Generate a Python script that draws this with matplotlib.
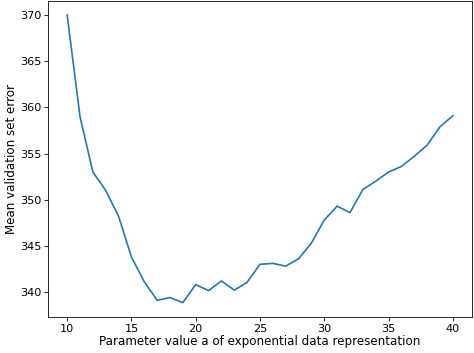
import matplotlib
matplotlib.use("Agg")
from matplotlib import pyplot as plt

# parameter a values and mean validation error
a_values = list(range(10, 41))
mean_error = [370.0, 359.0, 353.0, 351.0, 348.2, 343.8, 341.1, 339.1, 339.4, 338.85,
              340.8, 340.15, 341.2, 340.2, 341.05, 343.0, 343.1, 342.8, 343.6, 345.3,
              347.8, 349.3, 348.6, 351.1, 352.0, 353.0, 353.6, 354.7, 355.9, 357.9,
              359.1]

fig = plt.figure(figsize=(474 / 74, 353 / 74), dpi=74)
ax = fig.add_axes([0.101, 0.102, 0.895, 0.896])
ax.plot(a_values, mean_error, color="#1f77b4", linewidth=1.6)
ax.tick_params(labelsize=11, pad=3)
ax.set_xlabel("Parameter value a of exponential data representation", fontsize=11.5, labelpad=1)
ax.set_ylabel("Mean validation set error", fontsize=11.5, labelpad=2)
fig.savefig("out.png", dpi=74)
